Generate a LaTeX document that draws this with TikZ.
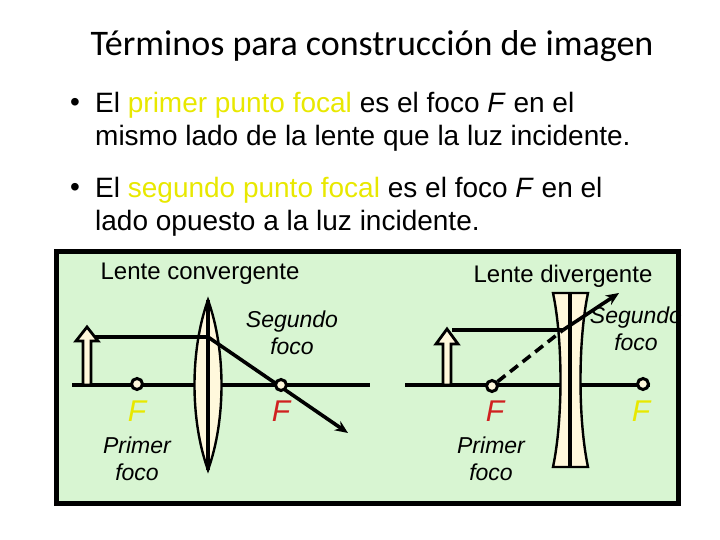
\documentclass[tikz,border=0pt]{standalone}
\usepackage{fontspec}
\setmainfont{Liberation Sans}
\newfontfamily\titlefont{Carlito}
\usetikzlibrary{arrows.meta}
\definecolor{boxgreen}{HTML}{D8F5D2}
\definecolor{yel}{HTML}{E8E800}
\definecolor{cream}{HTML}{FFF8DC}
\definecolor{fred}{HTML}{D02020}
\tikzset{
  txt/.style={font=\fontsize{28}{32}\selectfont, anchor=west, inner sep=0},
  lbl/.style={font=\fontsize{23}{27}\selectfont\itshape, align=center, inner sep=0},
  bigF/.style={font=\fontsize{30}{34}\selectfont\itshape},
  axis/.style={line width=4pt},
  focus/.style={circle, draw, line width=3pt, fill=cream, minimum size=11pt, inner sep=0},
  ray/.style={line width=3.6pt},
  obj/.style={draw, line width=2.8pt, fill=cream},
  lensst/.style={draw, line width=2.4pt, fill=cream},
}
\begin{document}
\begin{tikzpicture}[x=1pt,y=-1pt]
\useasboundingbox (0,0) rectangle (720,540);
\node[font=\titlefont\fontsize{36}{40}\selectfont] (title) at (372,46) {Términos para construcción de imagen};
\node[txt] (b1) at (70,105) {•};
\node[txt] (l1) at (95,105) {El \textcolor{yel}{primer punto focal} es el foco \textit{F} en el};
\node[txt] (l2) at (95,138) {mismo lado de la lente que la luz incidente.};
\node[txt] (b2) at (70,190) {•};
\node[txt] (l3) at (95,190) {El \textcolor{yel}{segundo punto focal} es el foco \textit{F} en el};
\node[txt] (l4) at (95,223) {lado opuesto a la luz incidente.};
% box
\draw[fill=boxgreen, line width=5pt] (56,251) rectangle (678,503);
% ---- left: convergent
\node[font=\fontsize{24}{28}\selectfont] (lc) at (200,274) {Lente convergente};
\draw[axis] (72,385) -- (370,385);
\draw[lensst] (208,300) .. controls (190,350) and (190,420) .. (208,470) .. controls (226,420) and (226,350) .. (208,300) -- cycle;
\draw[line width=3.6pt] (208,300) -- (208,470);
\draw[obj] (83,385) -- (83,341) -- (76,341) -- (87,327) -- (98,341) -- (91,341) -- (91,385) -- cycle;
\coordinate (r1) at (95,337);
\coordinate (r2) at (208,337);
\coordinate (r3) at (348,433);
\draw[ray] (r1) -- (r2);
\draw[ray, -{Stealth[length=13pt,width=11pt]}] (r2) -- (r3);
\node[focus] (f1) at (137,384) {};
\node[focus] (f2) at (281,385) {};
\node[bigF, text=yel] (F1) at (137,411) {F};
\node[bigF, text=fred] (F2) at (281,411) {F};
\node[lbl] (pf1) at (137,459) {Primer\\foco};
\node[lbl] (sf1) at (292,333) {Segundo\\foco};
% ---- right: divergent
\node[font=\fontsize{24}{28}\selectfont] (ld) at (563,276) {Lente divergente};
\draw[axis] (405,385) -- (650,385);
\draw[lensst] (553,293) -- (588,293) .. controls (578,340) and (578,420) .. (588,467) -- (553,467) .. controls (563,420) and (563,340) .. (553,293) -- cycle;
\draw[line width=3.6pt] (570,293) -- (570,467);
\draw[obj] (443,385) -- (443,344) -- (436,344) -- (447,329) -- (458,344) -- (451,344) -- (451,385) -- cycle;
\node[focus] (f3) at (492,386) {};
\node[focus] (f4) at (643,384) {};
\coordinate (q1) at (452,330);
\coordinate (q2) at (563,330);
\coordinate (q3) at (619,293);
\draw[ray] (q1) -- (q2);
\draw[ray, -{Stealth[length=13pt,width=11pt]}] (q2) -- (q3);
\draw[ray, dash pattern=on 10pt off 6pt] (f3) -- (q2);
\node[bigF, text=fred] (F3) at (495,411) {F};
\node[bigF, text=yel] (F4) at (641,411) {F};
\node[lbl] (pf2) at (491,459) {Primer\\foco};
\node[lbl] (sf2) at (636,329) {Segundo\\foco};
\end{tikzpicture}
\end{document}
